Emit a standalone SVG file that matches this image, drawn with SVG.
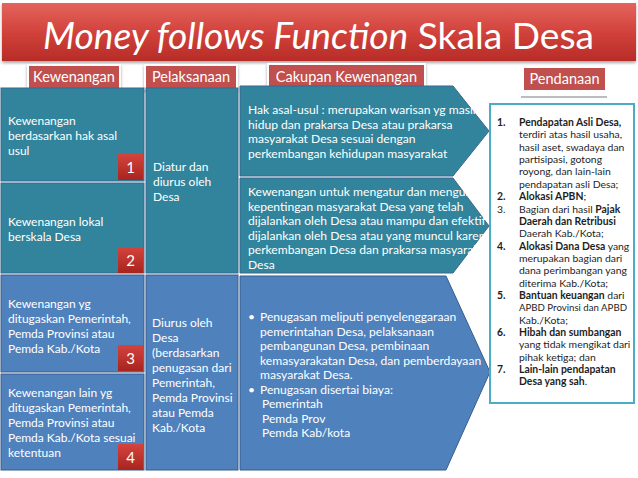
<svg xmlns="http://www.w3.org/2000/svg" width="638" height="478" viewBox="0 0 638 478">
<defs>
<linearGradient id="gTitle" x1="0" y1="0" x2="0" y2="1">
<stop offset="0" stop-color="#e4645d"/>
<stop offset="0.5" stop-color="#d2423c"/>
<stop offset="1" stop-color="#b72c27"/>
</linearGradient>
<linearGradient id="gBadge" x1="0" y1="0" x2="0" y2="1">
<stop offset="0" stop-color="#d4443d"/>
<stop offset="1" stop-color="#a8241f"/>
</linearGradient>
<filter id="sh" x="-5%" y="-10%" width="110%" height="130%">
<feDropShadow dx="0" dy="2" stdDeviation="1.5" flood-color="#000" flood-opacity="0.35"/>
</filter>
</defs>
<style>
text{font-family:Lato,"Liberation Sans",sans-serif}
.w{fill:#ffffff}
.lbl{fill:#c0504d;stroke:#ffffff;stroke-width:2}
.lt{font-size:14.5px;fill:#ffffff;text-anchor:middle}
.teal{fill:#31849b;stroke:#3b6690;stroke-width:1}
.blue{fill:#4f81bd;stroke:#385d8a;stroke-width:1}
.bt{font-size:12px;fill:#ffffff}
.ct{font-size:12.1px;fill:#ffffff}
.badge{fill:url(#gBadge)}
.bn{font-size:15px;fill:#ffffff;text-anchor:middle}
.pt{font-size:10.4px;fill:#1e1e1e}
.b{font-weight:bold}
</style>
<rect width="638" height="478" fill="#ffffff"/>

<g id="title">
<rect x="2" y="3" width="634" height="58" fill="url(#gTitle)" filter="url(#sh)"/>
<text x="43" y="49" font-size="37" class="w" textLength="551" lengthAdjust="spacingAndGlyphs"><tspan font-style="italic">Money follows Function</tspan> Skala Desa</text>
</g>

<g id="hdr-kewenangan">
<rect class="lbl" x="28" y="65" width="92" height="24" filter="url(#sh)"/>
<text class="lt" x="74" y="82">Kewenangan</text>
</g>
<g id="hdr-pelaksanaan">
<rect class="lbl" x="145" y="65" width="92" height="24" filter="url(#sh)"/>
<text class="lt" x="191" y="82">Pelaksanaan</text>
</g>
<g id="hdr-cakupan">
<rect class="lbl" x="268" y="64" width="157" height="25" filter="url(#sh)"/>
<text class="lt" x="346.5" y="82">Cakupan Kewenangan</text>
</g>
<g id="hdr-pendanaan">
<rect class="lbl" x="523" y="67" width="83" height="24"/>
<text class="lt" x="564.5" y="84">Pendanaan</text>
<line x1="521" y1="97" x2="607" y2="97" stroke="#a6a6a6" stroke-width="1.5"/>
</g>

<g id="kew1">
<rect class="teal" x="1" y="88" width="143" height="93"/>
<text class="bt" x="8"><tspan x="8" y="125">Kewenangan</tspan><tspan x="8" y="140">berdasarkan hak asal</tspan><tspan x="8" y="155">usul</tspan></text>
<rect class="badge" x="118" y="154" width="25" height="26"/>
<text class="bn" x="130.5" y="173">1</text>
</g>
<g id="kew2">
<rect class="teal" x="1" y="183" width="143" height="90"/>
<text class="bt"><tspan x="8" y="226">Kewenangan lokal</tspan><tspan x="8" y="241">berskala Desa</tspan></text>
<rect class="badge" x="118" y="247" width="25" height="26"/>
<text class="bn" x="130.5" y="266">2</text>
</g>
<g id="kew3">
<rect class="blue" x="1" y="275" width="143" height="97"/>
<text class="bt"><tspan x="8" y="308">Kewenangan yg</tspan><tspan x="8" y="323">ditugaskan Pemerintah,</tspan><tspan x="8" y="338">Pemda Provinsi atau</tspan><tspan x="8" y="353">Pemda Kab./Kota</tspan></text>
<rect class="badge" x="118" y="345" width="25" height="26"/>
<text class="bn" x="130.5" y="364">3</text>
</g>
<g id="kew4">
<rect class="blue" x="1" y="374" width="143" height="96"/>
<text class="bt"><tspan x="8" y="397">Kewenangan lain yg</tspan><tspan x="8" y="412">ditugaskan Pemerintah,</tspan><tspan x="8" y="427">Pemda Provinsi atau</tspan><tspan x="8" y="442">Pemda Kab./Kota sesuai</tspan><tspan x="8" y="457">ketentuan</tspan></text>
<rect class="badge" x="118" y="444" width="25" height="26"/>
<text class="bn" x="130.5" y="463">4</text>
</g>

<g id="pel1">
<rect class="teal" x="146" y="88" width="92" height="185"/>
<text class="bt"><tspan x="153" y="171">Diatur dan</tspan><tspan x="153" y="186">diurus oleh</tspan><tspan x="153" y="201">Desa</tspan></text>
</g>
<g id="pel2">
<rect class="blue" x="146" y="275" width="92" height="195"/>
<text class="bt"><tspan x="152" y="327">Diurus oleh</tspan><tspan x="152" y="342">Desa</tspan><tspan x="152" y="357">(berdasarkan</tspan><tspan x="152" y="372">penugasan dari</tspan><tspan x="152" y="387">Pemerintah,</tspan><tspan x="152" y="402">Pemda Provinsi</tspan><tspan x="152" y="417">atau Pemda</tspan><tspan x="152" y="432">Kab./Kota</tspan></text>
</g>

<g id="cak1">
<path class="teal" d="M240,86 H453 L489,131 L453,176 H240 Z"/>
<text class="ct"><tspan x="248" y="114">Hak asal-usul : merupakan warisan yg masih</tspan><tspan x="248" y="128.5">hidup dan prakarsa Desa atau prakarsa</tspan><tspan x="248" y="143">masyarakat Desa sesuai dengan</tspan><tspan x="248" y="157.5">perkembangan kehidupan masyarakat</tspan></text>
</g>
<g id="cak2">
<path class="teal" d="M240,178 H453 L489,226 L453,273 H240 Z"/>
<text class="ct"><tspan x="248" y="196">Kewenangan untuk mengatur dan mengurus</tspan><tspan x="248" y="210.5">kepentingan masyarakat Desa yang telah</tspan><tspan x="248" y="225">dijalankan oleh Desa atau mampu dan efektif</tspan><tspan x="248" y="239.5">dijalankan oleh Desa atau yang muncul karena</tspan><tspan x="248" y="254">perkembangan Desa dan prakarsa masyarakat</tspan><tspan x="248" y="268.5">Desa</tspan></text>
</g>
<g id="cak3">
<path class="blue" d="M240,276 H446 L490,372 L446,470 H240 Z"/>
<text class="ct"><tspan x="248" y="321">•</tspan><tspan x="260" y="321">Penugasan meliputi penyelenggaraan</tspan><tspan x="260" y="335.5">pemerintahan Desa, pelaksanaan</tspan><tspan x="260" y="350">pembangunan Desa, pembinaan</tspan><tspan x="260" y="364.5">kemasyarakatan Desa, dan pemberdayaan</tspan><tspan x="260" y="379">masyarakat Desa.</tspan><tspan x="248" y="393.5">•</tspan><tspan x="260" y="393.5">Penugasan disertai biaya:</tspan><tspan x="262" y="408">Pemerintah</tspan><tspan x="262" y="422.5">Pemda Prov</tspan><tspan x="262" y="437">Pemda Kab/kota</tspan></text>
</g>

<g id="pendanaan">
<rect x="490" y="104" width="144" height="299" fill="#ffffff" stroke="#4bacc6" stroke-width="2"/>
<text class="pt">
<tspan class="b" x="497" y="126">1.</tspan>
<tspan class="b" x="497" y="200">2.</tspan>
<tspan x="497" y="212.5">3.</tspan>
<tspan class="b" x="497" y="249.5">4.</tspan>
<tspan class="b" x="497" y="299">5.</tspan>
<tspan class="b" x="497" y="336">6.</tspan>
<tspan class="b" x="497" y="373">7.</tspan>
</text>
<text class="pt">
<tspan class="b" x="519" y="126">Pendapatan Asli Desa,</tspan>
<tspan x="519" y="138.4">terdiri atas hasil usaha,</tspan>
<tspan x="519" y="150.7">hasil aset, swadaya dan</tspan>
<tspan x="519" y="163">partisipasi, gotong</tspan>
<tspan x="519" y="175.4">royong, dan lain-lain</tspan>
<tspan x="519" y="187.7">pendapatan asli Desa;</tspan>
<tspan class="b" x="519" y="200">Alokasi APBN</tspan><tspan>;</tspan>
<tspan x="519" y="212.5">Bagian dari hasil </tspan><tspan class="b">Pajak</tspan>
<tspan class="b" x="519" y="224.8">Daerah dan Retribusi</tspan>
<tspan x="519" y="237.1">Daerah Kab./Kota;</tspan>
<tspan class="b" x="519" y="249.5">Alokasi Dana Desa</tspan><tspan> yang</tspan>
<tspan x="519" y="261.8">merupakan bagian dari</tspan>
<tspan x="519" y="274.1">dana perimbangan yang</tspan>
<tspan x="519" y="286.5">diterima Kab./Kota;</tspan>
<tspan class="b" x="519" y="299">Bantuan keuangan</tspan><tspan> dari</tspan>
<tspan x="519" y="311.2" textLength="108" lengthAdjust="spacingAndGlyphs">APBD Provinsi dan APBD</tspan>
<tspan x="519" y="323.5">Kab./Kota;</tspan>
<tspan class="b" x="519" y="336">Hibah dan sumbangan</tspan>
<tspan x="519" y="348.2">yang tidak mengikat dari</tspan>
<tspan x="519" y="360.6">pihak ketiga; dan</tspan>
<tspan class="b" x="519" y="373">Lain-lain pendapatan</tspan>
<tspan class="b" x="519" y="385.3">Desa yang sah</tspan><tspan>.</tspan>
</text>
</g>

<g id="connectors"/>
</svg>
